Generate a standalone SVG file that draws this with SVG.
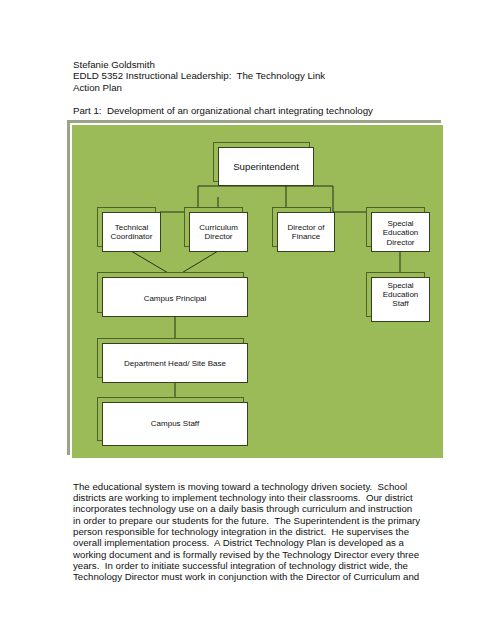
<svg xmlns="http://www.w3.org/2000/svg" width="495" height="640" viewBox="0 0 495 640">
<style>
text{font-family:"Liberation Sans",Arial,sans-serif;fill:#111;white-space:pre}
.hd{font-size:9.7px}
.bd{font-size:9.7px}
.bx{font-size:8px;text-anchor:middle}
.sh{fill:#9bbb59;stroke:#4f6228;stroke-width:1}
.mn{fill:#fff;stroke:#34421f;stroke-width:1}
.cn{fill:none;stroke:#26321a;stroke-width:1}
</style>
<rect width="495" height="640" fill="#fff"/>
<g id="header">
<text class="hd" x="73" y="68">Stefanie Goldsmith</text>
<text class="hd" x="73" y="79.3" xml:space="preserve">EDLD 5352 Instructional Leadership:  The Technology Link</text>
<text class="hd" x="73" y="90.6">Action Plan</text>
<text class="hd" x="73" y="114" xml:space="preserve">Part 1:  Development of an organizational chart integrating technology</text>
</g>
<g id="frame">
<path d="M68.5,455 V121.5 H441" fill="none" stroke="#97a487" stroke-width="3"/>
<rect x="72" y="125" width="371" height="333" fill="#9bbb59"/>
</g>
<g id="connectors">
<path class="cn" d="M198,186 H333 M198,186 V212 M218,197 V212 M286,186 V212 M333,186 V212 H371 M160,212 H189 M131,251 L175,277 M218,251 L175,277 M175,316 V343 M175,382 V402 M400,251 V277"/>
</g>
<g id="superintendent">
<rect class="sh" x="213.5" y="142.5" width="96" height="39"/>
<rect class="mn" x="218.5" y="147.5" width="95" height="38"/>
<text class="bx" x="266" y="170" style="font-size:9.7px">Superintendent</text>
</g>
<g id="technical-coordinator">
<rect class="sh" x="97.5" y="207.5" width="58" height="39"/>
<rect class="mn" x="102.5" y="212.5" width="58" height="39"/>
<text class="bx" x="131.5" y="229.5">Technical</text>
<text class="bx" x="131.5" y="239">Coordinator</text>
</g>
<g id="curriculum-director">
<rect class="sh" x="184.5" y="207.5" width="58" height="39"/>
<rect class="mn" x="189.5" y="212.5" width="58" height="39"/>
<text class="bx" x="218.5" y="229.5">Curriculum</text>
<text class="bx" x="218.5" y="239">Director</text>
</g>
<g id="director-of-finance">
<rect class="sh" x="272.5" y="207.5" width="58" height="39"/>
<rect class="mn" x="277.5" y="212.5" width="57" height="39"/>
<text class="bx" x="306" y="229.5">Director of</text>
<text class="bx" x="306" y="239">Finance</text>
</g>
<g id="special-education-director">
<rect class="sh" x="366.5" y="207.5" width="58" height="39"/>
<rect class="mn" x="371.5" y="212.5" width="58" height="39"/>
<text class="bx" x="400.5" y="225.5">Special</text>
<text class="bx" x="400.5" y="235">Education</text>
<text class="bx" x="400.5" y="244.5">Director</text>
</g>
<g id="special-education-staff">
<rect class="sh" x="366.5" y="272.5" width="58" height="44"/>
<rect class="mn" x="371.5" y="277.5" width="58" height="44"/>
<text class="bx" x="400.5" y="288">Special</text>
<text class="bx" x="400.5" y="297">Education</text>
<text class="bx" x="400.5" y="306">Staff</text>
</g>
<g id="campus-principal">
<rect class="sh" x="97.5" y="272.5" width="146" height="40"/>
<rect class="mn" x="102.5" y="277.5" width="145" height="39"/>
<text class="bx" x="175" y="300.5">Campus Principal</text>
</g>
<g id="department-head">
<rect class="sh" x="97.5" y="338.5" width="146" height="39"/>
<rect class="mn" x="102.5" y="343.5" width="145" height="39"/>
<text class="bx" x="175" y="366">Department Head/ Site Base</text>
</g>
<g id="campus-staff">
<rect class="sh" x="97.5" y="397.5" width="146" height="43"/>
<rect class="mn" x="102.5" y="402.5" width="145" height="43"/>
<text class="bx" x="175" y="426">Campus Staff</text>
</g>
<g id="body" xml:space="preserve">
<text class="bd" x="73" y="489.5">The educational system is moving toward a technology driven society.  School</text>
<text class="bd" x="73" y="500.8">districts are working to implement technology into their classrooms.  Our district</text>
<text class="bd" x="73" y="512.2">incorporates technology use on a daily basis through curriculum and instruction</text>
<text class="bd" x="73" y="523.5">in order to prepare our students for the future.  The Superintendent is the primary</text>
<text class="bd" x="73" y="534.8">person responsible for technology integration in the district.  He supervises the</text>
<text class="bd" x="73" y="546.2">overall implementation process.  A District Technology Plan is developed as a</text>
<text class="bd" x="73" y="557.5">working document and is formally revised by the Technology Director every three</text>
<text class="bd" x="73" y="568.8">years.  In order to initiate successful integration of technology district wide, the</text>
<text class="bd" x="73" y="580.2">Technology Director must work in conjunction with the Director of Curriculum and</text>
</g>
</svg>
